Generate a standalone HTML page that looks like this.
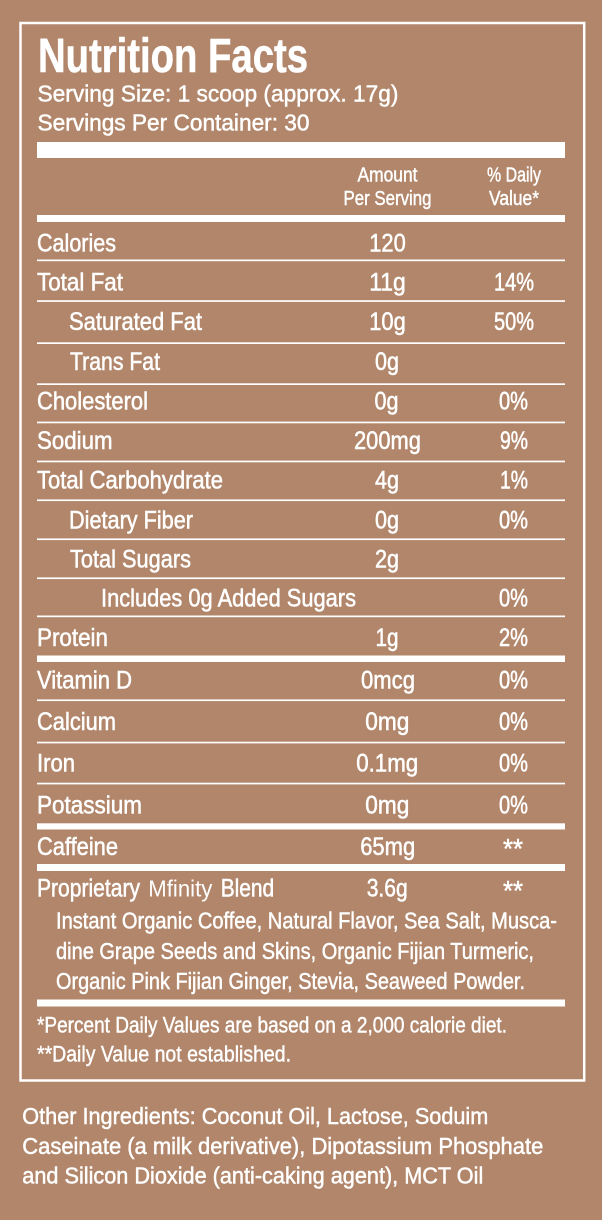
<!DOCTYPE html>
<html>
<head>
<meta charset="utf-8">
<style>
html,body{margin:0;padding:0;background:#b1866a;}
svg{display:block;}
text{font-family:"Liberation Sans Narrow","Liberation Sans",sans-serif;fill:#fff;}
.r{font-size:25px;stroke:#fff;stroke-width:0.55;}
.h{font-size:20px;stroke:#fff;stroke-width:0.45;}
.s{font-size:23.5px;stroke:#fff;stroke-width:0.5;}
.f{font-size:22px;stroke:#fff;stroke-width:0.45;}
.a{font-size:28px;stroke:#fff;stroke-width:0.5;}
</style>
</head>
<body>
<svg width="602" height="1220" viewBox="0 0 602 1220" xmlns="http://www.w3.org/2000/svg">
<rect x="0" y="0" width="602" height="1220" fill="#b1866a"/>
<!-- outer border -->
<rect x="20.5" y="23" width="563.7" height="1057.5" fill="none" stroke="#fff" stroke-width="2.5"/>

<!-- title -->
<text x="38" y="72" font-size="48" font-weight="bold" stroke="#fff" stroke-width="0.6" textLength="270" lengthAdjust="spacingAndGlyphs">Nutrition Facts</text>
<text class="s" x="37.5" y="101.5" textLength="361" lengthAdjust="spacingAndGlyphs">Serving Size: 1 scoop (approx. 17g)</text>
<text class="s" x="37.5" y="130.5" textLength="272" lengthAdjust="spacingAndGlyphs">Servings Per Container: 30</text>

<!-- thick bars -->
<rect x="37" y="142" width="528" height="16" fill="#fff"/>
<rect x="37" y="215" width="528" height="7" fill="#fff"/>
<rect x="37" y="655.5" width="528" height="6.5" fill="#fff"/>
<rect x="37" y="823.3" width="528" height="6.2" fill="#fff"/>
<rect x="37" y="864" width="528" height="7" fill="#fff"/>
<rect x="37" y="999.5" width="528" height="7" fill="#fff"/>

<!-- thin lines -->
<g fill="#fff">
<rect x="37" y="259.5" width="528" height="1.7"/>
<rect x="37" y="300.2" width="528" height="1.7"/>
<rect x="37" y="342.3" width="528" height="1.7"/>
<rect x="37" y="383.3" width="528" height="1.7"/>
<rect x="37" y="421.6" width="528" height="1.7"/>
<rect x="37" y="460.6" width="528" height="1.7"/>
<rect x="37" y="499.4" width="528" height="1.7"/>
<rect x="37" y="538.4" width="528" height="1.7"/>
<rect x="37" y="577.4" width="528" height="1.7"/>
<rect x="37" y="615.5" width="528" height="1.7"/>
<rect x="37" y="699.4" width="528" height="1.7"/>
<rect x="37" y="741.7" width="528" height="1.7"/>
<rect x="37" y="782.7" width="528" height="1.7"/>
</g>

<!-- header -->
<text class="h" x="387.5" y="181.5" text-anchor="middle" textLength="60" lengthAdjust="spacingAndGlyphs">Amount</text>
<text class="h" x="387.5" y="205" text-anchor="middle" textLength="88" lengthAdjust="spacingAndGlyphs">Per Serving</text>
<text class="h" x="514" y="181.5" text-anchor="middle" textLength="54" lengthAdjust="spacingAndGlyphs">% Daily</text>
<text class="h" x="514" y="205" text-anchor="middle" textLength="50" lengthAdjust="spacingAndGlyphs">Value*</text>

<!-- rows: labels -->
<text class="r" x="37" y="251.5" textLength="79" lengthAdjust="spacingAndGlyphs">Calories</text>
<text class="r" x="37" y="290.5" textLength="86" lengthAdjust="spacingAndGlyphs">Total Fat</text>
<text class="r" x="69" y="330" textLength="133" lengthAdjust="spacingAndGlyphs">Saturated Fat</text>
<text class="r" x="70" y="370" textLength="90" lengthAdjust="spacingAndGlyphs">Trans Fat</text>
<text class="r" x="37" y="409.5" textLength="111" lengthAdjust="spacingAndGlyphs">Cholesterol</text>
<text class="r" x="37" y="449" textLength="75.5" lengthAdjust="spacingAndGlyphs">Sodium</text>
<text class="r" x="37" y="488.5" textLength="186" lengthAdjust="spacingAndGlyphs">Total Carbohydrate</text>
<text class="r" x="69" y="528.3" textLength="124" lengthAdjust="spacingAndGlyphs">Dietary Fiber</text>
<text class="r" x="70" y="567.5" textLength="121" lengthAdjust="spacingAndGlyphs">Total Sugars</text>
<text class="r" x="101" y="606.7" textLength="255" lengthAdjust="spacingAndGlyphs">Includes 0g Added Sugars</text>
<text class="r" x="37" y="646" textLength="71" lengthAdjust="spacingAndGlyphs">Protein</text>
<text class="r" x="37" y="688.3" textLength="95" lengthAdjust="spacingAndGlyphs">Vitamin D</text>
<text class="r" x="37" y="730" textLength="79" lengthAdjust="spacingAndGlyphs">Calcium</text>
<text class="r" x="37" y="771.7" textLength="38" lengthAdjust="spacingAndGlyphs">Iron</text>
<text class="r" x="37" y="813.3" textLength="105" lengthAdjust="spacingAndGlyphs">Potassium</text>
<text class="r" x="37" y="855" textLength="81" lengthAdjust="spacingAndGlyphs">Caffeine</text>
<text class="r" x="37" y="896.7" textLength="103" lengthAdjust="spacingAndGlyphs">Proprietary</text>
<text x="148.3" y="896.7" font-size="23" fill="#f6eee8" textLength="64" lengthAdjust="spacingAndGlyphs">Mfinity</text>
<text class="r" x="220.7" y="896.7" textLength="53.5" lengthAdjust="spacingAndGlyphs">Blend</text>

<!-- rows: amounts -->
<g text-anchor="middle">
<text class="r" x="387.5" y="251.5" textLength="36.5" lengthAdjust="spacingAndGlyphs">120</text>
<text class="r" x="387.5" y="290.5" textLength="36.5" lengthAdjust="spacingAndGlyphs">11g</text>
<text class="r" x="387.5" y="330" textLength="36.5" lengthAdjust="spacingAndGlyphs">10g</text>
<text class="r" x="387" y="370" textLength="24" lengthAdjust="spacingAndGlyphs">0g</text>
<text class="r" x="386.5" y="409.5" textLength="24" lengthAdjust="spacingAndGlyphs">0g</text>
<text class="r" x="387.5" y="449" textLength="67" lengthAdjust="spacingAndGlyphs">200mg</text>
<text class="r" x="387" y="488.5" textLength="24" lengthAdjust="spacingAndGlyphs">4g</text>
<text class="r" x="387" y="528.3" textLength="24" lengthAdjust="spacingAndGlyphs">0g</text>
<text class="r" x="387" y="567.5" textLength="24" lengthAdjust="spacingAndGlyphs">2g</text>
<text class="r" x="387" y="646" textLength="23" lengthAdjust="spacingAndGlyphs">1g</text>
<text class="r" x="388" y="688.3" textLength="54" lengthAdjust="spacingAndGlyphs">0mcg</text>
<text class="r" x="387.3" y="730" textLength="44" lengthAdjust="spacingAndGlyphs">0mg</text>
<text class="r" x="387.2" y="771.7" textLength="62" lengthAdjust="spacingAndGlyphs">0.1mg</text>
<text class="r" x="387.3" y="813.3" textLength="44" lengthAdjust="spacingAndGlyphs">0mg</text>
<text class="r" x="387.7" y="855" textLength="55" lengthAdjust="spacingAndGlyphs">65mg</text>
<text class="r" x="387.2" y="896.7" textLength="41" lengthAdjust="spacingAndGlyphs">3.6g</text>

<!-- rows: %DV -->
<text class="r" x="514" y="290.5" textLength="40" lengthAdjust="spacingAndGlyphs">14%</text>
<text class="r" x="514" y="330" textLength="40" lengthAdjust="spacingAndGlyphs">50%</text>
<text class="r" x="513.5" y="409.5" textLength="29" lengthAdjust="spacingAndGlyphs">0%</text>
<text class="r" x="514" y="449" textLength="28" lengthAdjust="spacingAndGlyphs">9%</text>
<text class="r" x="514" y="488.5" textLength="28" lengthAdjust="spacingAndGlyphs">1%</text>
<text class="r" x="513.5" y="528.3" textLength="29" lengthAdjust="spacingAndGlyphs">0%</text>
<text class="r" x="513.5" y="606.7" textLength="29" lengthAdjust="spacingAndGlyphs">0%</text>
<text class="r" x="513.5" y="646" textLength="29" lengthAdjust="spacingAndGlyphs">2%</text>
<text class="r" x="513.5" y="688.3" textLength="29" lengthAdjust="spacingAndGlyphs">0%</text>
<text class="r" x="513.5" y="730" textLength="29" lengthAdjust="spacingAndGlyphs">0%</text>
<text class="r" x="513.5" y="771.7" textLength="29" lengthAdjust="spacingAndGlyphs">0%</text>
<text class="r" x="513.5" y="813.3" textLength="29" lengthAdjust="spacingAndGlyphs">0%</text>
<text class="a" x="513" y="858" textLength="20" lengthAdjust="spacingAndGlyphs">**</text>
<text class="a" x="513" y="900" textLength="20" lengthAdjust="spacingAndGlyphs">**</text>
</g>

<!-- blend ingredients -->
<text class="s" x="56" y="928.5" textLength="501" lengthAdjust="spacingAndGlyphs">Instant Organic Coffee, Natural Flavor, Sea Salt, Musca-</text>
<text class="s" x="56" y="959" textLength="478" lengthAdjust="spacingAndGlyphs">dine Grape Seeds and Skins, Organic Fijian Turmeric,</text>
<text class="s" x="56" y="989" textLength="469" lengthAdjust="spacingAndGlyphs">Organic Pink Fijian Ginger, Stevia, Seaweed Powder.</text>

<!-- footnotes -->
<text class="f" x="37" y="1032.7" textLength="470" lengthAdjust="spacingAndGlyphs">*Percent Daily Values are based on a 2,000 calorie diet.</text>
<text class="f" x="37" y="1061.7" textLength="254" lengthAdjust="spacingAndGlyphs">**Daily Value not established.</text>

<!-- other ingredients -->
<text class="s" x="22.3" y="1124" textLength="466" lengthAdjust="spacingAndGlyphs">Other Ingredients: Coconut Oil, Lactose, Soduim</text>
<text class="s" x="22.3" y="1154" textLength="521" lengthAdjust="spacingAndGlyphs">Caseinate (a milk derivative), Dipotassium Phosphate</text>
<text class="s" x="22.3" y="1183.3" textLength="461" lengthAdjust="spacingAndGlyphs">and Silicon Dioxide (anti-caking agent), MCT Oil</text>
</svg>
</body>
</html>
